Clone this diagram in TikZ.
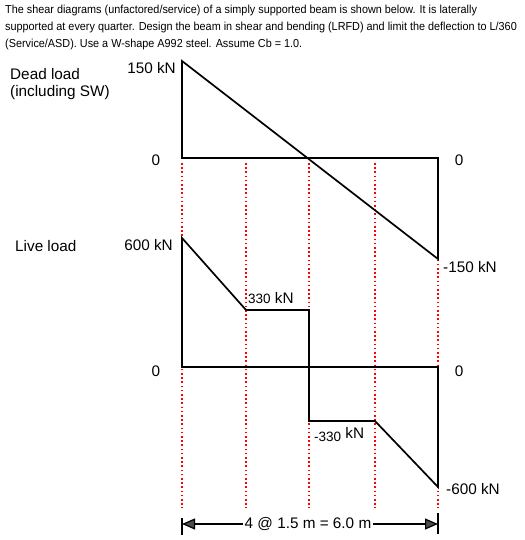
\documentclass[tikz,border=0pt]{standalone}
\usepackage{fontspec}
\setmainfont{Liberation Sans}
\usetikzlibrary{arrows.meta}
\newcommand{\smallnum}[1]{{\fontsize{13.5}{15}\selectfont #1}}
\begin{document}
\begin{tikzpicture}[x=1pt,y=-1pt,
  shear/.style={line width=1.7pt,black,line join=miter},
  guide/.style={red,line width=1.7pt,dash pattern=on 1.6pt off 2.6pt},
  lbl/.style={inner sep=0pt,font=\fontsize{15.3}{17}\selectfont},
  title/.style={inner sep=0pt,anchor=base west,font=\fontsize{11.6}{13}\selectfont},
  dim/.style={line width=1.2pt,-{Triangle[length=13pt,width=11pt,fill=black!70]}}]
\useasboundingbox (0,0) rectangle (524,540);
% title
\node[title] (t1) at (5,14) {\scalebox{0.935}[1]{The shear diagrams (unfactored/service) of a simply supported beam is shown below. It is laterally}};
\node[title] (t2) at (5,31) {\scalebox{0.935}[1]{supported at every quarter. Design the beam in shear and bending (LRFD) and limit the deflection to L/360}};
\node[title] (t3) at (5,48) {\scalebox{0.935}[1]{(Service/ASD). Use a W-shape A992 steel. Assume Cb = 1.0.}};
% guide lines
\foreach \x/\n in {182/a,246/b,309/c,375/d,438/e}{
  \coordinate (g\n top) at (\x,163);
  \coordinate (g\n bot) at (\x,508);
  \draw[guide] (g\n top) -- (g\n bot);
}
% dead load
\coordinate (d0) at (182,158);
\coordinate (d1) at (182,61);
\coordinate (d2) at (438,259);
\coordinate (d3) at (438,158);
\draw[shear] (d0) -- (d1) -- (d2) -- (d3) -- cycle;
% live load
\coordinate (l0) at (182,367);
\coordinate (l1) at (182,238);
\coordinate (l2) at (246,310);
\coordinate (l3) at (309,310);
\coordinate (l4) at (309,421);
\coordinate (l5) at (375,421);
\coordinate (l6) at (438,487);
\coordinate (l7) at (438,367);
\draw[shear] (l0) -- (l1) -- (l2) -- (l3) -- (l4) -- (l5) -- (l6) -- (l7) -- cycle;
% labels
\node[lbl,anchor=base west] (dl1) at (10,80) {Dead load};
\node[lbl,anchor=base west] (dl2) at (10,97) {(including SW)};
\node[lbl,anchor=base east] (v150) at (176,74) {150 kN};
\node[lbl,anchor=base] (z1) at (156,166) {0};
\node[lbl,anchor=base] (z2) at (459,166) {0};
\node[lbl,anchor=base west] (vm150) at (443,272) {-150 kN};
\node[lbl,anchor=base west] (ll) at (15,251) {Live load};
\node[lbl,anchor=base east] (v600) at (173,250) {600 kN};
\node[lbl,anchor=base west] (v330) at (248,303) {\smallnum{330} kN};
\node[lbl,anchor=base] (z3) at (156,376) {0};
\node[lbl,anchor=base] (z4) at (459,376) {0};
\node[lbl,anchor=base west] (vm330) at (314,441) {\smallnum{-330} \raisebox{2.5pt}{kN}};
\node[lbl,anchor=base west] (vm600) at (446,494) {-600 kN};
% dimension
\coordinate (ta1) at (182,518);
\coordinate (ta2) at (182,535);
\coordinate (tb1) at (438,513);
\coordinate (tb2) at (438,534);
\draw[line width=1.2pt] (ta1) -- (ta2);
\draw[line width=1.2pt] (tb1) -- (tb2);
\node[lbl] (dimt) at (308,524) {4 @ 1.5 m = 6.0 m};
\coordinate (pa) at (182,524);
\coordinate (pb) at (438,524);
\draw[dim] (dimt.west) ++(-2,0) -- (pa);
\draw[dim] (dimt.east) ++(2,0) -- (pb);
\end{tikzpicture}
\end{document}
